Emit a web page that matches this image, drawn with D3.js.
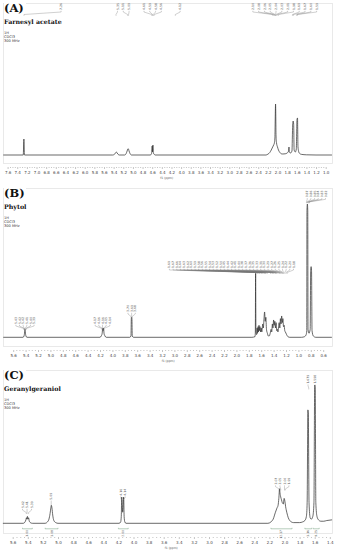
<!DOCTYPE html>
<html>
<head>
<meta charset="utf-8">
<script src="https://cdn.jsdelivr.net/npm/d3@7"></script>
<style>
  body { margin: 0; background: #fff; }
  svg { display: block; }
  text { font-family: "DejaVu Sans", sans-serif; }
  .letter, .compound { font-family: "DejaVu Serif", serif; font-weight: bold; fill: #111; }
</style>
</head>
<body>
<svg id="chart" width="337" height="550"></svg>
<script>
// ---- data: [ppm, intensity] ----
const traceA = [
  [7.69, 0], [7.275, 0], [7.262, 16], [7.25, 0],
  [5.42, 0], [5.38, 0.8], [5.36, 2.2], [5.345, 3], [5.33, 2.2], [5.31, 0.8], [5.28, 0],
  [5.17, 0], [5.14, 1.5], [5.12, 4], [5.105, 6], [5.095, 6.2], [5.08, 4], [5.06, 1.5], [5.03, 0],
  [4.64, 0], [4.615, 1], [4.60, 9], [4.592, 3], [4.585, 10], [4.575, 2], [4.56, 0.8], [4.54, 0],
  [2.24, 0], [2.20, 0.8], [2.16, 2.5], [2.13, 5], [2.10, 8], [2.08, 10], [2.065, 12], [2.055, 16],
  [2.04, 51], [2.03, 18], [2.02, 12], [2.00, 8], [1.98, 5], [1.95, 2.5], [1.92, 1.2], [1.89, 1],
  [1.84, 1.2], [1.80, 2], [1.77, 4], [1.762, 8], [1.755, 3], [1.73, 2], [1.70, 4],
  [1.685, 30], [1.675, 34], [1.665, 31], [1.655, 5], [1.63, 3], [1.61, 6], [1.595, 36], [1.585, 37],
  [1.575, 8], [1.55, 2], [1.50, 0.6], [1.40, 0.2], [1.2, 0], [0.87, 0]
];
const traceB = [
  [5.76, 0], [5.44, 0], [5.425, 1], [5.415, 4], [5.41, 6], [5.405, 4], [5.395, 1], [5.38, 0],
  [4.20, 0], [4.18, 1], [4.165, 3], [4.157, 6.5], [4.15, 5], [4.143, 7], [4.135, 3], [4.12, 1], [4.10, 0],
  [3.72, 0], [3.70, 1], [3.695, 14], [3.69, 15], [3.685, 14], [3.68, 1], [3.66, 0],
  [1.75, 0], [1.70, 0.5], [1.695, 3], [1.69, 48], [1.685, 4], [1.675, 2], [1.665, 7], [1.66, 3],
  [1.65, 8], [1.645, 4], [1.635, 9], [1.63, 5], [1.62, 8], [1.61, 4], [1.60, 7], [1.59, 4],
  [1.575, 10], [1.565, 7], [1.555, 14], [1.545, 19], [1.535, 12], [1.525, 15], [1.515, 6],
  [1.50, 3], [1.485, 1], [1.47, 1], [1.455, 3], [1.44, 6], [1.43, 4], [1.42, 10], [1.41, 7],
  [1.40, 13], [1.39, 9], [1.38, 12], [1.37, 7], [1.36, 11], [1.35, 5], [1.34, 6], [1.33, 4],
  [1.32, 8], [1.31, 11], [1.30, 7], [1.29, 14], [1.28, 10], [1.27, 16], [1.26, 11], [1.25, 14],
  [1.24, 8], [1.23, 9], [1.22, 5], [1.21, 4], [1.19, 2], [1.17, 0.5], [1.14, 0],
  [0.95, 0], [0.90, 0.5], [0.875, 2], [0.865, 5], [0.862, 95], [0.855, 100], [0.849, 95],
  [0.845, 6], [0.83, 3], [0.81, 6], [0.802, 50], [0.795, 53], [0.788, 50], [0.78, 5],
  [0.76, 1], [0.72, 0], [0.46, 0]
];
const traceC = [
  [5.73, 0], [5.46, 0], [5.44, 0.7], [5.425, 2.5], [5.418, 4], [5.412, 3], [5.405, 5], [5.398, 3],
  [5.39, 4], [5.38, 1.5], [5.36, 0.3], [5.34, 0],
  [5.17, 0], [5.14, 1], [5.12, 3], [5.105, 7], [5.095, 11], [5.088, 13], [5.08, 11], [5.07, 6],
  [5.055, 2], [5.03, 0.5], [5.0, 0],
  [4.19, 0], [4.17, 1], [4.162, 5], [4.156, 19], [4.143, 8], [4.13, 19], [4.124, 5], [4.115, 1], [4.10, 0],
  [2.22, 0], [2.18, 1], [2.15, 3], [2.12, 8], [2.10, 11], [2.085, 13], [2.075, 18], [2.065, 25],
  [2.06, 22], [2.05, 19], [2.04, 17], [2.03, 15], [2.015, 14], [2.005, 18], [1.995, 16],
  [1.985, 12], [1.97, 8], [1.95, 4], [1.93, 2], [1.91, 1], [1.88, 0.5], [1.80, 0.5],
  [1.76, 1], [1.73, 2], [1.71, 5], [1.70, 15], [1.69, 82], [1.685, 80], [1.675, 15], [1.66, 4],
  [1.645, 3], [1.625, 5], [1.61, 15], [1.60, 100], [1.593, 98], [1.585, 15], [1.57, 5],
  [1.55, 2.5], [1.52, 1.5], [1.48, 1.5], [1.44, 2], [1.37, 2.5]
];

const ticksA = [7.6, 7.4, 7.2, 7.0, 6.8, 6.6, 6.4, 6.2, 6.0, 5.8, 5.6, 5.4, 5.2, 5.0, 4.8, 4.6, 4.4,
  4.2, 4.0, 3.8, 3.6, 3.4, 3.2, 3.0, 2.8, 2.6, 2.4, 2.2, 2.0, 1.8, 1.6, 1.4, 1.2, 1.0];
const ticksB = [5.6, 5.4, 5.2, 5.0, 4.8, 4.6, 4.4, 4.2, 4.0, 3.8, 3.6, 3.4, 3.2, 3.0, 2.8, 2.6, 2.4,
  2.2, 2.0, 1.8, 1.6, 1.4, 1.2, 1.0, 0.8, 0.6];
const ticksC = [5.6, 5.4, 5.2, 5.0, 4.8, 4.6, 4.4, 4.2, 4.0, 3.8, 3.6, 3.4, 3.2, 3.0, 2.8, 2.6, 2.4,
  2.2, 2.0, 1.8, 1.6, 1.4];

// peak label groups: c = ppm the labels are centred on, lv = intensity level of label foot
const labelsA = [
  { c: 6.49, lv: 145, t: ["7.26"] },
  { c: 5.20, lv: 145, t: ["5.35", "5.11", "5.09"] },
  { c: 4.59, lv: 145, t: ["4.61", "4.59", "4.58", "4.56"] },
  { c: 4.02, lv: 145, t: ["4.12"] },
  { c: 1.85, lv: 145, t: ["2.10", "2.08", "2.06", "2.05", "2.04", "2.03", "2.01", "1.98", "1.69", "1.67", "1.60", "1.59"] }
];
const labelsB = [
  { c: 5.41, lv: 10, t: ["5.43", "5.42", "5.42", "5.41", "5.40", "5.39"] },
  { c: 4.16, lv: 10, t: ["4.17", "4.16", "4.16", "4.15", "4.14"] },
  { c: 3.69, lv: 19, t: ["3.70", "3.69", "3.68"] },
  { c: 2.08, lv: 52, t: ["1.69", "1.67", "1.66", "1.64", "1.63", "1.62", "1.60", "1.59", "1.58", "1.56",
    "1.55", "1.54", "1.53", "1.52", "1.50", "1.45", "1.44", "1.42", "1.41", "1.40", "1.38", "1.37",
    "1.36", "1.35", "1.33", "1.31", "1.30", "1.29", "1.27", "1.26", "1.25", "1.24", "1.22", "1.20", "1.18"] },
  { c: 0.71, lv: 105, t: ["0.87", "0.86", "0.85", "0.84", "0.83", "0.82"] }
];
const labelsC = [
  { c: 5.41, lv: 11, t: ["5.42", "5.41", "5.39"] },
  { c: 5.09, lv: 17, t: ["5.09"] },
  { c: 4.14, lv: 20, t: ["4.16", "4.14"] },
  { c: 2.03, lv: 28, t: ["2.07", "2.05", "2.00", "1.99"] },
  { c: 1.688, lv: 101, t: ["1.679"] },
  { c: 1.596, lv: 101, t: ["1.598"] }
];

// integrals (panel C)
const intFrom = [5.47, 5.17, 4.20, 2.18, 1.73, 1.62];
const intTo = [5.34, 5.00, 4.07, 1.90, 1.64, 1.54];
const intVals = ["1.00", "3.08", "2.00", "12.37", "3.16", "9.25"];

const panels = [
  { letter: "(A)", name: "Farnesyl acetate", trace: traceA, ticks: ticksA, labels: labelsA,
    top: 3, bottom: 163, base: 155, full: 55, xr: [7.6, 325.7], sp: 5.8 },
  { letter: "(B)", name: "Phytol", trace: traceB, ticks: ticksB, labels: labelsB,
    top: 188, bottom: 346, base: 337.3, full: 204, xr: [13.2, 323.2], sp: 3.65 },
  { letter: "(C)", name: "Geranylgeraniol", trace: traceC, ticks: ticksC, labels: labelsC,
    top: 370, bottom: 533, base: 523.3, full: 385, xr: [12.7, 329.8], sp: 4.5 }
];

const svg = d3.select("#chart");

panels.forEach(p => {
  const g = svg.append("g");
  const x = d3.scaleLinear()
      .domain([p.ticks[0], p.ticks[p.ticks.length - 1]])
      .range(p.xr);
  const y = d3.scaleLinear()
      .domain([0, 100])
      .range([p.base, p.full]);

  g.append("rect")
      .attr("x", 3.5).attr("y", p.top + 0.5)
      .attr("width", 329).attr("height", p.bottom - p.top)
      .attr("fill", "none")
      .attr("stroke", "#e4e4e4")
      .attr("stroke-width", 0.8);

  // spectrum
  const line = d3.line()
      .x(d => x(d[0]))
      .y(d => y(d[1]))
      .curve(d3.curveMonotoneX);
  g.append("path")
      .datum(p.trace)
      .attr("fill", "none")
      .attr("stroke", "#2a2a2a")
      .attr("stroke-width", 0.7)
      .attr("stroke-linejoin", "round")
      .attr("d", line);

  // axis
  const axisY = p.bottom + 4;
  const minor = [];
  p.ticks.slice(1).forEach((t, i) => {
    const a = p.ticks[i];
    minor.push(a + (t - a) / 4, a + (t - a) / 2, a + 3 * (t - a) / 4);
  });
  const gMinor = g.append("g")
      .attr("transform", `translate(0,${axisY})`)
      .call(d3.axisBottom(x).tickValues(minor).tickFormat("").tickSize(1));
  const gAxis = g.append("g")
      .attr("transform", `translate(0,${axisY})`)
      .call(d3.axisBottom(x).tickValues(p.ticks).tickFormat(d3.format(".1f")).tickSize(2).tickPadding(2.5));
  [gMinor, gAxis].forEach(a => {
    a.select(".domain").remove();
    a.selectAll(".tick line").attr("stroke", "#888").attr("stroke-width", 0.5);
  });
  gAxis.selectAll(".tick text")
      .attr("font-size", 4)
      .attr("fill", "#444");
  g.append("text")
      .attr("x", (p.xr[0] + p.xr[1]) / 2)
      .attr("y", axisY + 12)
      .attr("text-anchor", "middle")
      .attr("font-size", 3)
      .attr("fill", "#555")
      .text("f1 (ppm)");

  // peak labels
  p.labels.forEach(grp => {
    const n = grp.t.length;
    const yb = y(grp.lv);
    grp.t.forEach((s, i) => {
      const lx = x(grp.c) + (i - (n - 1) / 2) * p.sp;
      const px = x(+s);
      g.append("text")
          .attr("transform", `translate(${lx + 1.1},${yb}) rotate(-90)`)
          .attr("font-size", 3.1)
          .attr("fill", "#555")
          .text(s);
      g.append("path")
          .attr("d", `M${lx},${yb + 0.8}V${yb + 2}L${px},${yb + 4.5}V${yb + 5.8}`)
          .attr("fill", "none")
          .attr("stroke", "#777")
          .attr("stroke-width", 0.35);
    });
  });

  // panel text
  g.append("rect")
      .attr("x", 4).attr("y", p.top - 1)
      .attr("width", 22).attr("height", 10)
      .attr("fill", "#fff");
  g.append("text")
      .attr("class", "letter")
      .attr("x", 4).attr("y", p.top + 9)
      .attr("font-size", 11.5)
      .text(p.letter);
  g.append("text")
      .attr("class", "compound")
      .attr("x", 4).attr("y", p.top + 21)
      .attr("font-size", 6.3)
      .text(p.name);
  ["1H", "CDCl3", "300 MHz"].forEach((s, i) => {
    g.append("text")
        .attr("x", 4).attr("y", p.top + 30.5 + i * 4)
        .attr("font-size", 3.6)
        .attr("fill", "#333")
        .text(s);
  });

  // integrals
  if (p.letter === "(C)") {
    const iy = p.base + 5.5;
    intFrom.forEach((f, i) => {
      const x0 = x(f), x1 = x(intTo[i]), xm = (x0 + x1) / 2;
      g.append("path")
          .attr("d", `M${x0},${iy - 1}V${iy}H${x1}V${iy - 1}`)
          .attr("fill", "none")
          .attr("stroke", "#6f9a78")
          .attr("stroke-width", 0.5);
      g.append("text")
          .attr("transform", `translate(${xm + 1},${iy + 1.2}) rotate(-90)`)
          .attr("text-anchor", "end")
          .attr("font-size", 3)
          .attr("fill", "#555")
          .text(intVals[i]);
    });
  }
});
</script>
</body>
</html>
